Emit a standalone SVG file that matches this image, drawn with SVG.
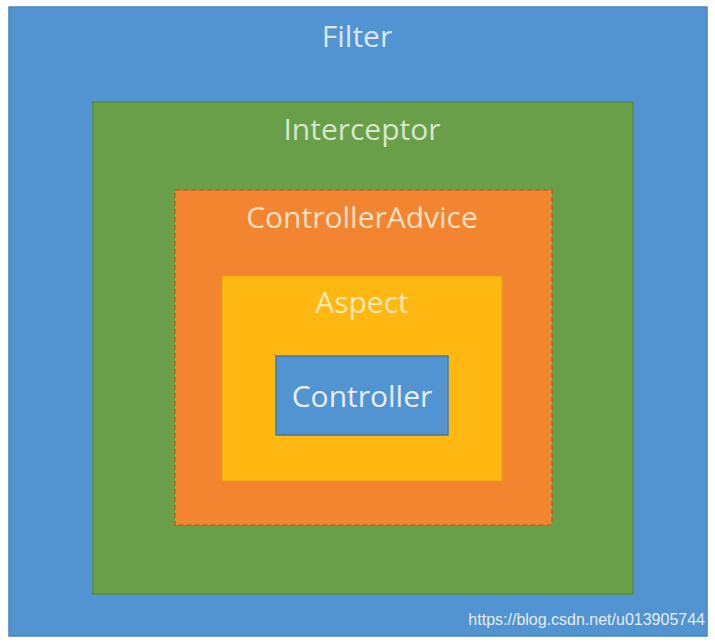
<svg xmlns="http://www.w3.org/2000/svg" width="715" height="643" viewBox="0 0 715 643">
<style>
text{font-family:"Open Sans","Liberation Sans",sans-serif;font-size:30px;text-anchor:middle}
.lbl{fill:#dbe6f2}
</style>
<rect width="715" height="643" fill="#ffffff"/>
<g id="filter"><rect x="9" y="7" width="698" height="629" fill="#5294d2" stroke="#4a86bd" stroke-width="1.5"/><text x="357" y="47" class="lbl">Filter</text></g>
<g id="interceptor"><rect x="93" y="102" width="540" height="492" fill="#699f48" stroke="#5a8a3e" stroke-width="1.5"/><text x="362" y="140" fill="#d6e6cc">Interceptor</text></g>
<g id="advice"><rect x="175" y="190" width="377" height="335" fill="#f38530" stroke="#b8632a" stroke-width="1.5" stroke-dasharray="5,3"/><text x="362" y="228" fill="#fbe0c6">ControllerAdvice</text></g>
<g id="aspect"><rect x="222" y="276" width="280" height="205" fill="#feb811" stroke="#e3a20e" stroke-width="1"/><text x="362" y="313" fill="#fde7b6">Aspect</text></g>
<g id="controller"><rect x="276" y="356" width="172" height="79" fill="#5294d2" stroke="#4379ad" stroke-width="1.5"/><text x="362" y="407" fill="#e6eef8">Controller</text></g>
<g id="connectors"/>
<text x="705" y="625" style="font-family:'Liberation Sans',sans-serif;font-size:16px;text-anchor:end" fill="#e4ecf4">https://blog.csdn.net/u013905744</text>
</svg>
